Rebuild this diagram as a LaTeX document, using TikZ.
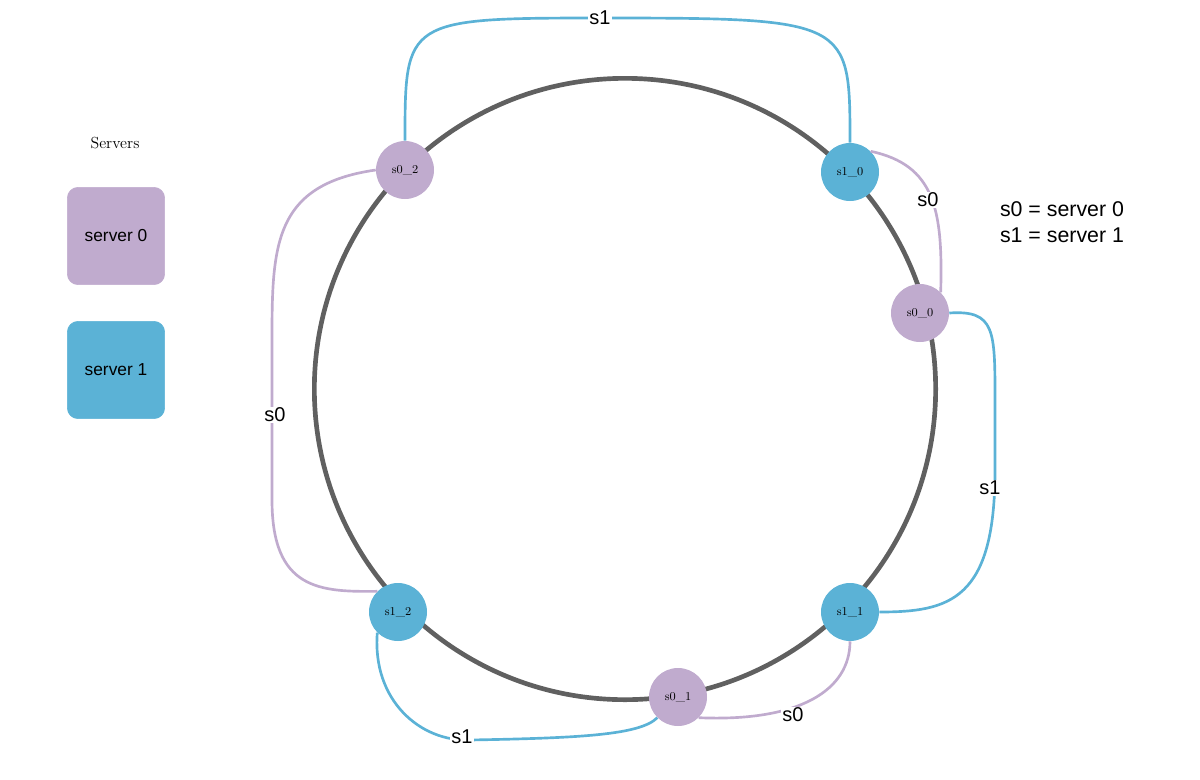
\documentclass[tikz,border=0pt]{standalone}
\usepackage{fontspec}
\newfontfamily\sansf{Liberation Sans}
\begin{document}
\definecolor{pu}{HTML}{C0ABCE}
\definecolor{bl}{HTML}{5BB2D6}
\definecolor{ring}{HTML}{606060}
\begin{tikzpicture}[x=0.75pt,y=-0.75pt,
  srv/.style={circle,minimum size=43.5pt,inner sep=0pt,font=\small},
  p0/.style={srv,fill=pu},p1/.style={srv,fill=bl},
  c0/.style={draw=pu,line width=2pt},c1/.style={draw=bl,line width=2pt},
  lbl/.style={fill=white,inner sep=1pt,font=\sansf\fontsize{15}{18}\selectfont}]
\useasboundingbox (0,0) rectangle (1200,779);
\node[circle,draw=ring,line width=3.5pt,minimum size=466pt] (ringc) at (625,389) {};
\node[p0] (a) at (405,170) {s0\_2};
\node[p1] (b) at (850,172) {s1\_0};
\node[p0] (c) at (920,313) {s0\_0};
\node[p1] (d) at (850,612) {s1\_1};
\node[p0] (e) at (678,697) {s0\_1};
\node[p1] (f) at (398,612) {s1\_2};
\draw[c1] (a.north) .. controls (405,20) and (405,18) .. (600,18) node[lbl,pos=1] {s1} .. controls (850,18) and (850,20) .. (b.north);
\draw[c0] (b.north east) .. controls (935,165) and (943,210) .. (c.north east);
\node[lbl] at (928,200) {s0};
\draw[c1] (c.east) .. controls (995,310) and (995,330) .. (995,400) -- (995,470) .. controls (995,600) and (950,612) .. (d.east);
\node[lbl] at (990,488) {s1};
\draw[c0] (d.south) .. controls (850,690) and (800,722) .. (e.south east);
\node[lbl] at (793,715) {s0};
\draw[c1] (f.south west) .. controls (372,700) and (420,742) .. (470,740) .. controls (580,738) and (640,735) .. (e.south west);
\node[lbl] at (462,737) {s1};
\draw[c0] (a.west) .. controls (270,185) and (272,250) .. (272,350) -- (272,500) .. controls (272,590) and (320,592) .. (f.north west);
\node[lbl] at (275,415) {s0};
\node[font=\large] (t) at (115,143) {Servers};
\node[draw=pu,fill=pu,rounded corners=8pt,minimum width=73pt,minimum height=73pt,font=\sansf\fontsize{13}{16}\selectfont] (l0) at (116,236) {server 0};
\node[draw=bl,fill=bl,rounded corners=8pt,minimum width=73pt,minimum height=73pt,font=\sansf\fontsize{13}{16}\selectfont] (l1) at (116,370) {server 1};
\node[font=\sansf\fontsize{16}{20}\selectfont,align=left] (k) at (1062,222) {s0 = server 0\\s1 = server 1};
\end{tikzpicture}
\end{document}
